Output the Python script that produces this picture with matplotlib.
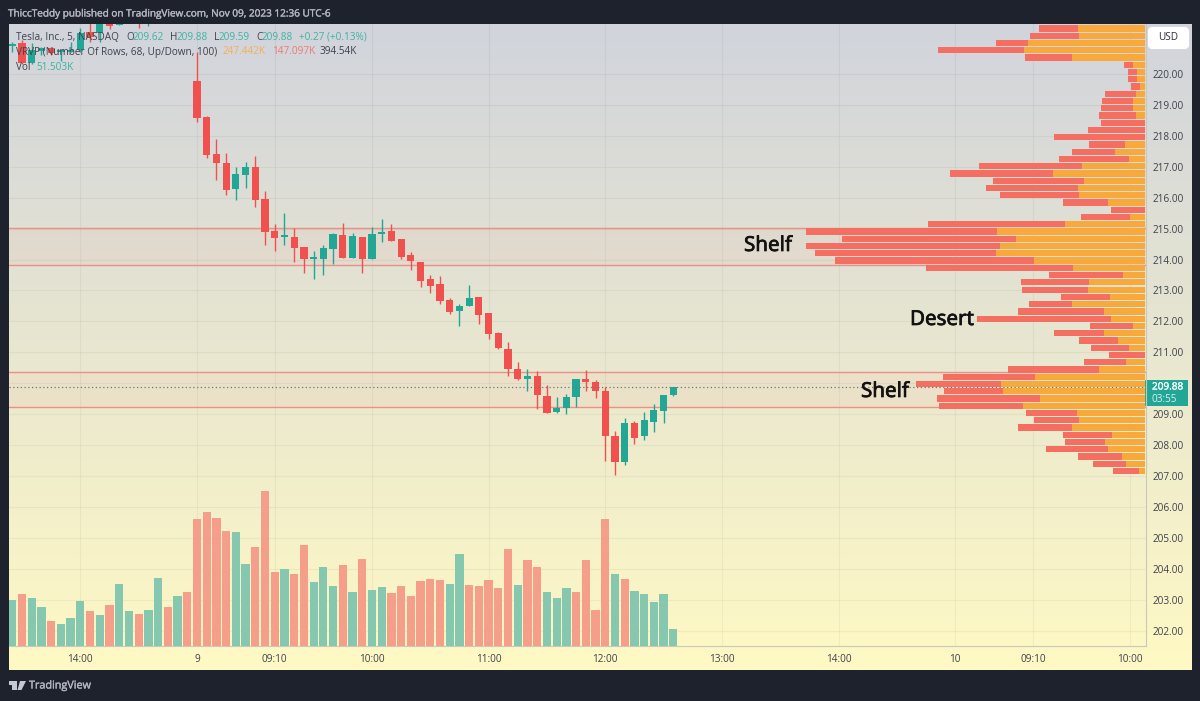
#!/usr/bin/env python3
"""TSLA 5 min candles with visible range volume profile, TradingView style."""

import matplotlib
matplotlib.use("Agg")
import matplotlib.patheffects as pe
import matplotlib.pyplot as plt
import numpy as np
from matplotlib.patches import FancyBboxPatch, Polygon, Rectangle

plt.rcParams["font.family"] = ["Open Sans", "DejaVu Sans"]

W, H = 1200, 701

# candles, 19 bars of the prior session then the Nov 9 open
opens = [220.92, 221.00, 220.36, 220.74, 220.84, 220.71, 220.71, 220.78, 221.36, 221.33,
         221.65, 221.60, 222.00, 222.05, 221.85, 222.10, 222.30, 222.10, 222.35,
         219.77, 218.61, 217.41, 217.12, 216.28, 216.73, 216.99, 215.96, 214.92, 214.73,
         214.73, 214.41, 214.02, 214.02, 214.34, 214.79, 214.05, 214.73, 214.02, 214.83,
         214.92, 214.66, 214.15, 213.92, 213.37, 213.21, 212.69, 212.34, 212.50, 212.79,
         212.27, 211.62, 211.11, 210.46, 210.14, 210.23, 209.59, 209.07, 209.20, 209.55,
         210.14, 210.04, 209.75, 208.29, 207.45, 208.71, 208.29, 208.75, 209.10, 209.62]
highs = [221.03, 221.10, 221.00, 220.88, 220.87, 220.78, 221.03, 221.49, 221.65, 221.95,
         221.72, 221.90, 222.10, 222.20, 222.25, 222.45, 222.40, 222.50, 222.50,
         220.71, 218.64, 217.90, 217.45, 216.99, 217.15, 217.35, 216.22, 215.15, 215.50,
         215.02, 214.41, 214.28, 214.47, 214.86, 215.18, 214.86, 214.73, 215.05, 215.31,
         215.15, 214.66, 214.24, 213.92, 213.50, 213.47, 212.76, 212.56, 213.18, 212.79,
         212.27, 211.66, 211.33, 210.69, 210.46, 210.39, 209.94, 209.55, 209.65, 210.14,
         210.43, 210.10, 209.88, 208.45, 208.87, 208.78, 209.07, 209.33, 209.62, 209.88]
lows = [220.71, 220.32, 220.32, 220.61, 220.61, 220.42, 220.71, 220.71, 221.03, 221.03,
        221.46, 221.58, 221.70, 221.49, 221.55, 221.95, 222.00, 222.00, 222.00,
        218.45, 217.28, 216.57, 216.09, 215.93, 216.31, 215.70, 214.47, 214.28, 214.47,
        213.92, 213.56, 213.37, 213.50, 213.86, 214.05, 214.05, 213.56, 214.02, 214.57,
        214.60, 214.02, 213.66, 213.11, 212.92, 212.56, 212.24, 211.85, 212.50, 211.92,
        211.43, 211.11, 210.23, 210.10, 209.75, 209.17, 209.04, 209.04, 209.00, 209.23,
        209.75, 209.52, 207.48, 207.03, 207.36, 208.03, 208.16, 208.42, 208.71, 209.59]
closes = [220.97, 220.36, 220.78, 220.84, 220.68, 220.74, 220.78, 221.33, 221.20, 221.65,
          221.55, 221.75, 221.85, 221.80, 222.10, 222.30, 222.10, 222.35, 222.10,
          218.58, 217.38, 217.12, 216.25, 216.77, 216.99, 215.93, 214.89, 214.70, 214.76,
          214.37, 214.02, 214.05, 214.37, 214.83, 214.05, 214.76, 214.02, 214.83, 214.89,
          214.60, 214.08, 213.95, 213.31, 213.14, 212.66, 212.30, 212.50, 212.76, 212.21,
          211.59, 211.14, 210.46, 210.14, 210.23, 209.62, 209.04, 209.20, 209.55, 210.14,
          210.04, 209.75, 208.29, 207.45, 208.71, 208.23, 208.81, 209.13, 209.62, 209.88]

# volume in thousands, "g"/"r" as drawn (bar colours do not always follow the candle)
volumes = [142, 160, 149, 120, 78, 69, 85, 139, 108, 95, 126, 191, 108, 98, 111, 211, 121, 153, 165,
           392, 412, 394, 353, 351, 253, 305, 478, 228, 238, 221, 312, 197, 242, 185, 249, 167, 268,
           172, 182, 163, 185, 153, 201, 206, 203, 192, 283, 187, 184, 203, 178, 298, 189, 266, 244,
           167, 149, 180, 165, 264, 112, 390, 221, 206, 170, 160, 136, 160, 51.5]
volume_sides = list("grggrgggrgrggrggrgr"
                    "rrrrggrrrgrrgggrgrggrrrrrrggrrrrrgrrgggrrrrgrgggg")

# volume profile rows from the bottom row upward
profile_up = [6, 19, 23, 37, 40, 33, 73, 66, 68, 122, 105, 142, 144, 110, 46, 19, 0, 16, 27, 41,
              12, 34, 41, 73, 35, 57, 56, 22, 72, 111, 149, 145, 129, 148, 80, 15, 0, 37, 66, 67,
              61, 92, 63, 16, 30, 20, 0, 0, 0, 9, 12, 12, 9, 5, 8, 8, 12, 73, 121, 117, 66, 67, 72]
profile_down = [26, 33, 44, 62, 40, 49, 54, 45, 51, 84, 103, 59, 85, 92, 91, 42, 36, 38, 39, 50,
                43, 134, 86, 43, 49, 66, 68, 74, 147, 199, 181, 194, 174, 191, 137, 49, 34, 45, 79,
                92, 91, 103, 103, 70, 43, 36, 91, 57, 44, 37, 32, 31, 31, 9, 9, 9, 9, 47, 86, 32,
                49, 39, 80]
profile_low = 207.16
profile_step = 0.2347

shelf_bands = [(213.82, 215.02), (209.23, 210.36)]
last_price = 209.88

price_ticks = [float(p) for p in range(202, 221)]
time_ticks = [-12, 0, 8, 18, 30, 42, 54, 66, 78, 86, 96]
time_labels = ["14:00", "9", "09:10", "10:00", "11:00", "12:00", "13:00", "14:00", "10", "09:10", "10:00"]

BG_DARK = "#1e222d"
TEAL = "#22a796"
RED = "#f0514f"
VOL_TEAL = "#86c8af"
VOL_RED = "#f59f8a"
UP_ORANGE = "#f8a93c"
DOWN_RED = "#f46e62"
SHELF = "#ec8f87"
TEXT = "#3f424d"
TEXT_TEAL = "#3fb3a0"


def px_rect(x0, y0, x1, y1):
    """Figure fraction rect [left, bottom, width, height] from image pixels."""
    return [x0 / W, 1 - y1 / H, (x1 - x0) / W, (y1 - y0) / H]


fig = plt.figure(figsize=(W / 100, H / 100), dpi=100, facecolor=BG_DARK)


def px_text(x, y, s, stroke=0.0, **kw):
    kw.setdefault("va", "center")
    txt = fig.text(x / W, 1 - y / H, s, **kw)
    if stroke:
        # installed faces have no semibold cut, thicken with a stroke
        txt.set_path_effects([pe.withStroke(linewidth=stroke, foreground=kw["color"])])
    return txt


# gradient panel behind chart and both scales
ax_bg = fig.add_axes(px_rect(9, 24, 1192, 670), zorder=0)
top = np.array([209, 212, 220]) / 255
bottom = np.array([255, 249, 196]) / 255
t = np.linspace(0, 1, 256)[:, None, None]
ax_bg.imshow(top + (bottom - top) * t, aspect="auto")
ax_bg.axis("off")

ax = fig.add_axes(px_rect(9, 24, 1146, 646), zorder=1)
ax.patch.set_alpha(0)
ax.set_xlim(-19.34, 97.63)
ax.set_ylim(201.50, 221.62)

bars = np.arange(len(opens)) - 19
opens_a, highs_a, lows_a, closes_a = map(np.array, (opens, highs, lows, closes))
colors = [TEAL if c >= o else RED for o, c in zip(opens_a, closes_a)]
ax.vlines(bars, lows_a, highs_a, colors=colors, lw=1, zorder=3)
ax.bar(bars, np.maximum(np.abs(closes_a - opens_a), 0.06), bottom=np.minimum(opens_a, closes_a),
       width=0.74, color=colors, lw=0, zorder=4)

for low, high in shelf_bands:
    ax.axhspan(low, high, color=SHELF, alpha=0.08, lw=0, zorder=2)
    ax.axhline(low, color=SHELF, lw=1, zorder=2)
    ax.axhline(high, color=SHELF, lw=1, zorder=2)
ax.axhline(last_price, color="#5f7f78", lw=0.9, ls=(0, (1, 2)), zorder=5)

ax.grid(True, color="#000000", alpha=0.045, lw=0.9)
ax.set_axisbelow(True)
for name, spine in ax.spines.items():
    spine.set_visible(name in ("right", "bottom"))
    spine.set_color("#c8c8be")
    spine.set_linewidth(0.8)

# volume pane on the same bars, own scale
ax_vol = ax.twinx()
ax_vol.set_ylim(0, 1916)
ax_vol.set_yticks([])
ax_vol.bar(bars, volumes, width=0.85, lw=0,
           color=[VOL_TEAL if s == "g" else VOL_RED for s in volume_sides])
ax_vol.patch.set_alpha(0)
for spine in ax_vol.spines.values():
    spine.set_visible(False)

# profile grows leftward from the price scale
ax_vp = ax.twiny()
ax_vp.set_xlim(1136, -1)
ax_vp.set_xticks([])
ax_vp.set_ylim(ax.get_ylim())
row_prices = profile_low + profile_step * np.arange(len(profile_up))
ax_vp.barh(row_prices, profile_up, height=profile_step * 0.86, color=UP_ORANGE, lw=0)
ax_vp.barh(row_prices, profile_down, left=profile_up, height=profile_step * 0.86, color=DOWN_RED, lw=0)
ax_vp.patch.set_alpha(0)
for spine in ax_vp.spines.values():
    spine.set_visible(False)

# twinx moves the host ticks back to the left, so set the scales after it
ax.set_yticks(price_ticks)
ax.set_yticklabels([f"{p:.2f}" if p != 210 else "" for p in price_ticks])
ax.set_xticks(time_ticks)
ax.set_xticklabels(time_labels)
ax.yaxis.tick_right()
ax.xaxis.tick_bottom()
ax.tick_params(axis="y", length=0, pad=5, labelsize=7.2, labelcolor=TEXT)
ax.tick_params(axis="x", length=0, pad=5.5, labelsize=7.2, labelcolor=TEXT)

# header and footer
px_text(8, 14, "ThiccTeddy published on TradingView.com, Nov 09, 2023 12:36 UTC-6",
        stroke=0.25, fontsize=7.2, color="#b2b5be")
px_text(29, 686, "TradingView", stroke=0.25, fontsize=7.8, color="#b2b5be")
for pts in ([(8.5, 681), (17, 681), (17, 690), (12, 690), (12, 685), (8.5, 685)],
            [(20, 681), (26, 681), (21.5, 690), (17.5, 690)]):
    fig.add_artist(Polygon([(x / W, 1 - y / H) for x, y in pts], closed=True, color="#c5c8d0",
                           lw=0, transform=fig.transFigure))

# legend rows
legend_rows = [
    (37, [(16, "Tesla, Inc., 5, NASDAQ", TEXT), (126, "O", TEXT), (133, "209.62", TEXT_TEAL),
          (170, "H", TEXT), (177, "209.88", TEXT_TEAL), (214, "L", TEXT), (219, "209.59", TEXT_TEAL),
          (256, "C", TEXT), (262, "209.88", TEXT_TEAL), (299, "+0.27 (+0.13%)", TEXT_TEAL)]),
    (52, [(16, "VRVP (Number Of Rows, 68, Up/Down, 100)", TEXT), (223, "247.442K", "#f2b057"),
          (272, "147.097K", "#ee7a70"), (320, "394.54K", TEXT)]),
    (67, [(16, "Vol", TEXT), (36, "51.503K", TEXT_TEAL)]),
]
for y, pieces in legend_rows:
    for x, s, c in pieces:
        px_text(x, y, s, fontsize=7.2, color=c, zorder=6)

# hand labels
label_font = {"family": ["Noto Sans", "DejaVu Sans"], "fontsize": 14.8, "color": "#111111"}
px_text(744, 246, "Shelf", stroke=0.5, **label_font)
px_text(861, 392, "Shelf", stroke=0.5, **label_font)
px_text(910, 320, "Desert", stroke=0.5, **label_font)

# price scale widgets
fig.add_artist(FancyBboxPatch((1150 / W, 1 - 47 / H), 37 / W, 18 / H,
                              boxstyle="round,pad=0,rounding_size=0.002", mutation_aspect=W / H,
                              fc="white", ec="white", lw=3, transform=fig.transFigure))
px_text(1168, 38, "USD", fontsize=7.2, color="#2a2e39", ha="center")
fig.add_artist(Rectangle((1145 / W, 1 - 406 / H), 43 / W, 26 / H, fc=TEAL, ec="none", transform=fig.transFigure))
px_text(1152, 387, "209.88", stroke=0.2, fontsize=7.2, color="white")
px_text(1152, 399, "03:55", fontsize=7.2, color="#d8efec")

fig.savefig("out.png", dpi=100, facecolor=BG_DARK)
plt.close(fig)
